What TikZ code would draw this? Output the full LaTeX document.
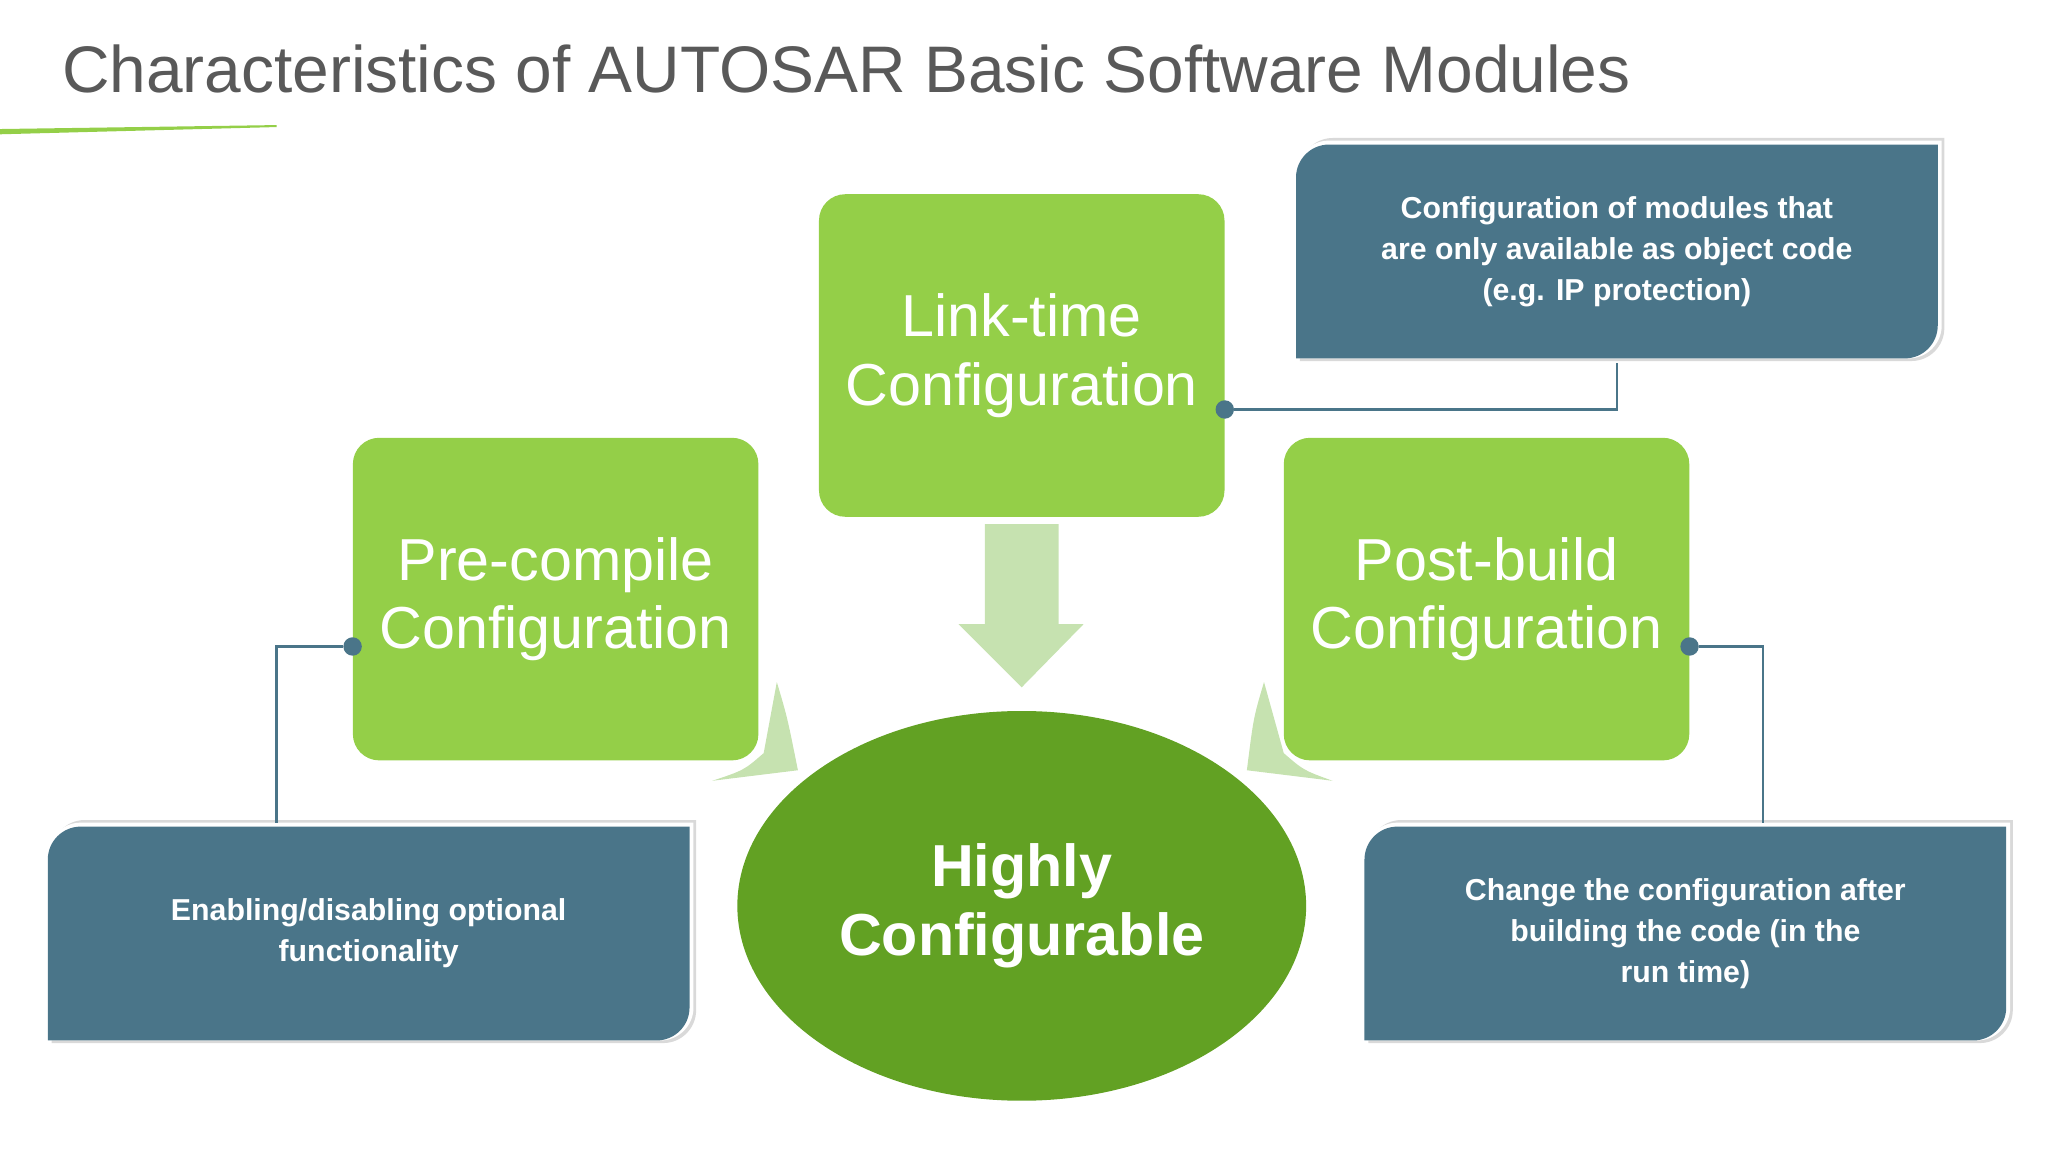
\documentclass[tikz,border=0pt]{standalone}
\usepackage{fontspec}
\setmainfont{Liberation Sans}
\usetikzlibrary{shapes.geometric}
\begin{document}
\begin{tikzpicture}[x=1pt,y=-1pt,
  gbox/.style={fill=lg,draw=none,rounded corners=20pt,minimum width=308pt,minimum height=245pt,text=white,font=\fontsize{45}{52}\selectfont,align=center,inner sep=0pt},
  bbox/.style={draw=none,minimum width=487pt,minimum height=162pt,inner sep=0pt},
  btext/.style={text=white,font=\bfseries\fontsize{23}{31}\selectfont,align=center},
  conn/.style={draw=bl,line width=1.8pt},
  dot/.style={circle,fill=bl,minimum size=14pt,inner sep=0pt}]
\definecolor{lg}{HTML}{94CF48}
\definecolor{dg}{HTML}{62A123}
\definecolor{bl}{HTML}{4A7589}
\definecolor{pale}{HTML}{C6E2B0}
\definecolor{tg}{HTML}{595959}
\useasboundingbox (0,0) rectangle (1560,877);
% title
\node[anchor=base west,text=tg,font=\fontsize{50}{56}\selectfont,inner sep=0pt] (title) at (47,70) {Characteristics of AUTOSAR Basic Software Modules};
\fill[lg] (0,98) -- (210,95) -- (210,96.5) -- (0,102) -- cycle;
% pale arrows
\fill[pale] (748,398) -- (804,398) -- (804,474) -- (823,474) -- (776,522) -- (728,474) -- (748,474) -- cycle;
\fill[pale] (590,518) .. controls (598,545) .. (606,585) -- (541,593) .. controls (565,585) .. (580,572) -- cycle;
\fill[pale] (960,518) .. controls (952,545) .. (947,585) -- (1012,593) .. controls (990,585) .. (975,572) -- cycle;
% green boxes
\node[gbox] (link) at (776,270) {Link-time\\Configuration};
\node[gbox] (pre) at (422,455) {Pre-compile\\Configuration};
\node[gbox] (post) at (1129,455) {Post-build\\Configuration};
\node[ellipse,fill=dg,minimum width=432pt,minimum height=296pt,text=white,font=\bfseries\fontsize{45}{52}\selectfont,align=center,inner sep=0pt] (hc) at (776,688) {Highly\\Configurable};
% blue boxes
\node[bbox] (tr) at (1228,191) {};
\node[bbox] (blb) at (280,709) {};
\node[bbox] (brb) at (1280,709) {};
\foreach \b in {tr,blb,brb}{
  \fill[gray!30,rounded corners=25pt] ([xshift=3pt,yshift=5pt]\b.south west) -- ([xshift=3pt,yshift=5pt]\b.north west) [sharp corners] -- ([xshift=5pt,yshift=5pt]\b.north east) [rounded corners=25pt] -- ([xshift=5pt,yshift=-2pt]\b.south east) [sharp corners] -- ([xshift=3pt,yshift=-2pt]\b.south west) -- cycle;
  \fill[white,rounded corners=25pt] ([yshift=3pt]\b.south west) -- ([yshift=3pt]\b.north west) [sharp corners] -- ([xshift=3pt,yshift=3pt]\b.north east) [rounded corners=25pt] -- ([xshift=3pt]\b.south east) [sharp corners] -- (\b.south west) -- cycle;
  \fill[bl] (\b.south west) [rounded corners=25pt] -- (\b.north west) [sharp corners] -- (\b.north east) [rounded corners=25pt] -- (\b.south east) [sharp corners] -- (\b.south west) -- cycle;
}
\node[btext] at (tr) {Configuration of modules that\\are only available as object code\\(e.g. IP protection)};
\node[btext] at (blb) {Enabling/disabling optional\\functionality};
\node[btext] at (brb) {Change the configuration after\\building the code (in the\\run time)};
% connectors
\node[dot] (d1) at (link.east |- 0,311) {};
\node[dot] (d2) at (pre.west |- 0,491) {};
\node[dot] (d3) at (post.east |- 0,491) {};
\coordinate (c1) at (1228,311);
\coordinate (c2) at (210,491);
\coordinate (c3) at (1339,491);
\coordinate (e1) at (1228,276);
\coordinate (e2) at (210,625);
\coordinate (e3) at (1339,625);
\draw[conn] (d1) -- (c1) -- (e1);
\draw[conn] (d2) -- (c2) -- (e2);
\draw[conn] (d3) -- (c3) -- (e3);
\end{tikzpicture}
\end{document}
